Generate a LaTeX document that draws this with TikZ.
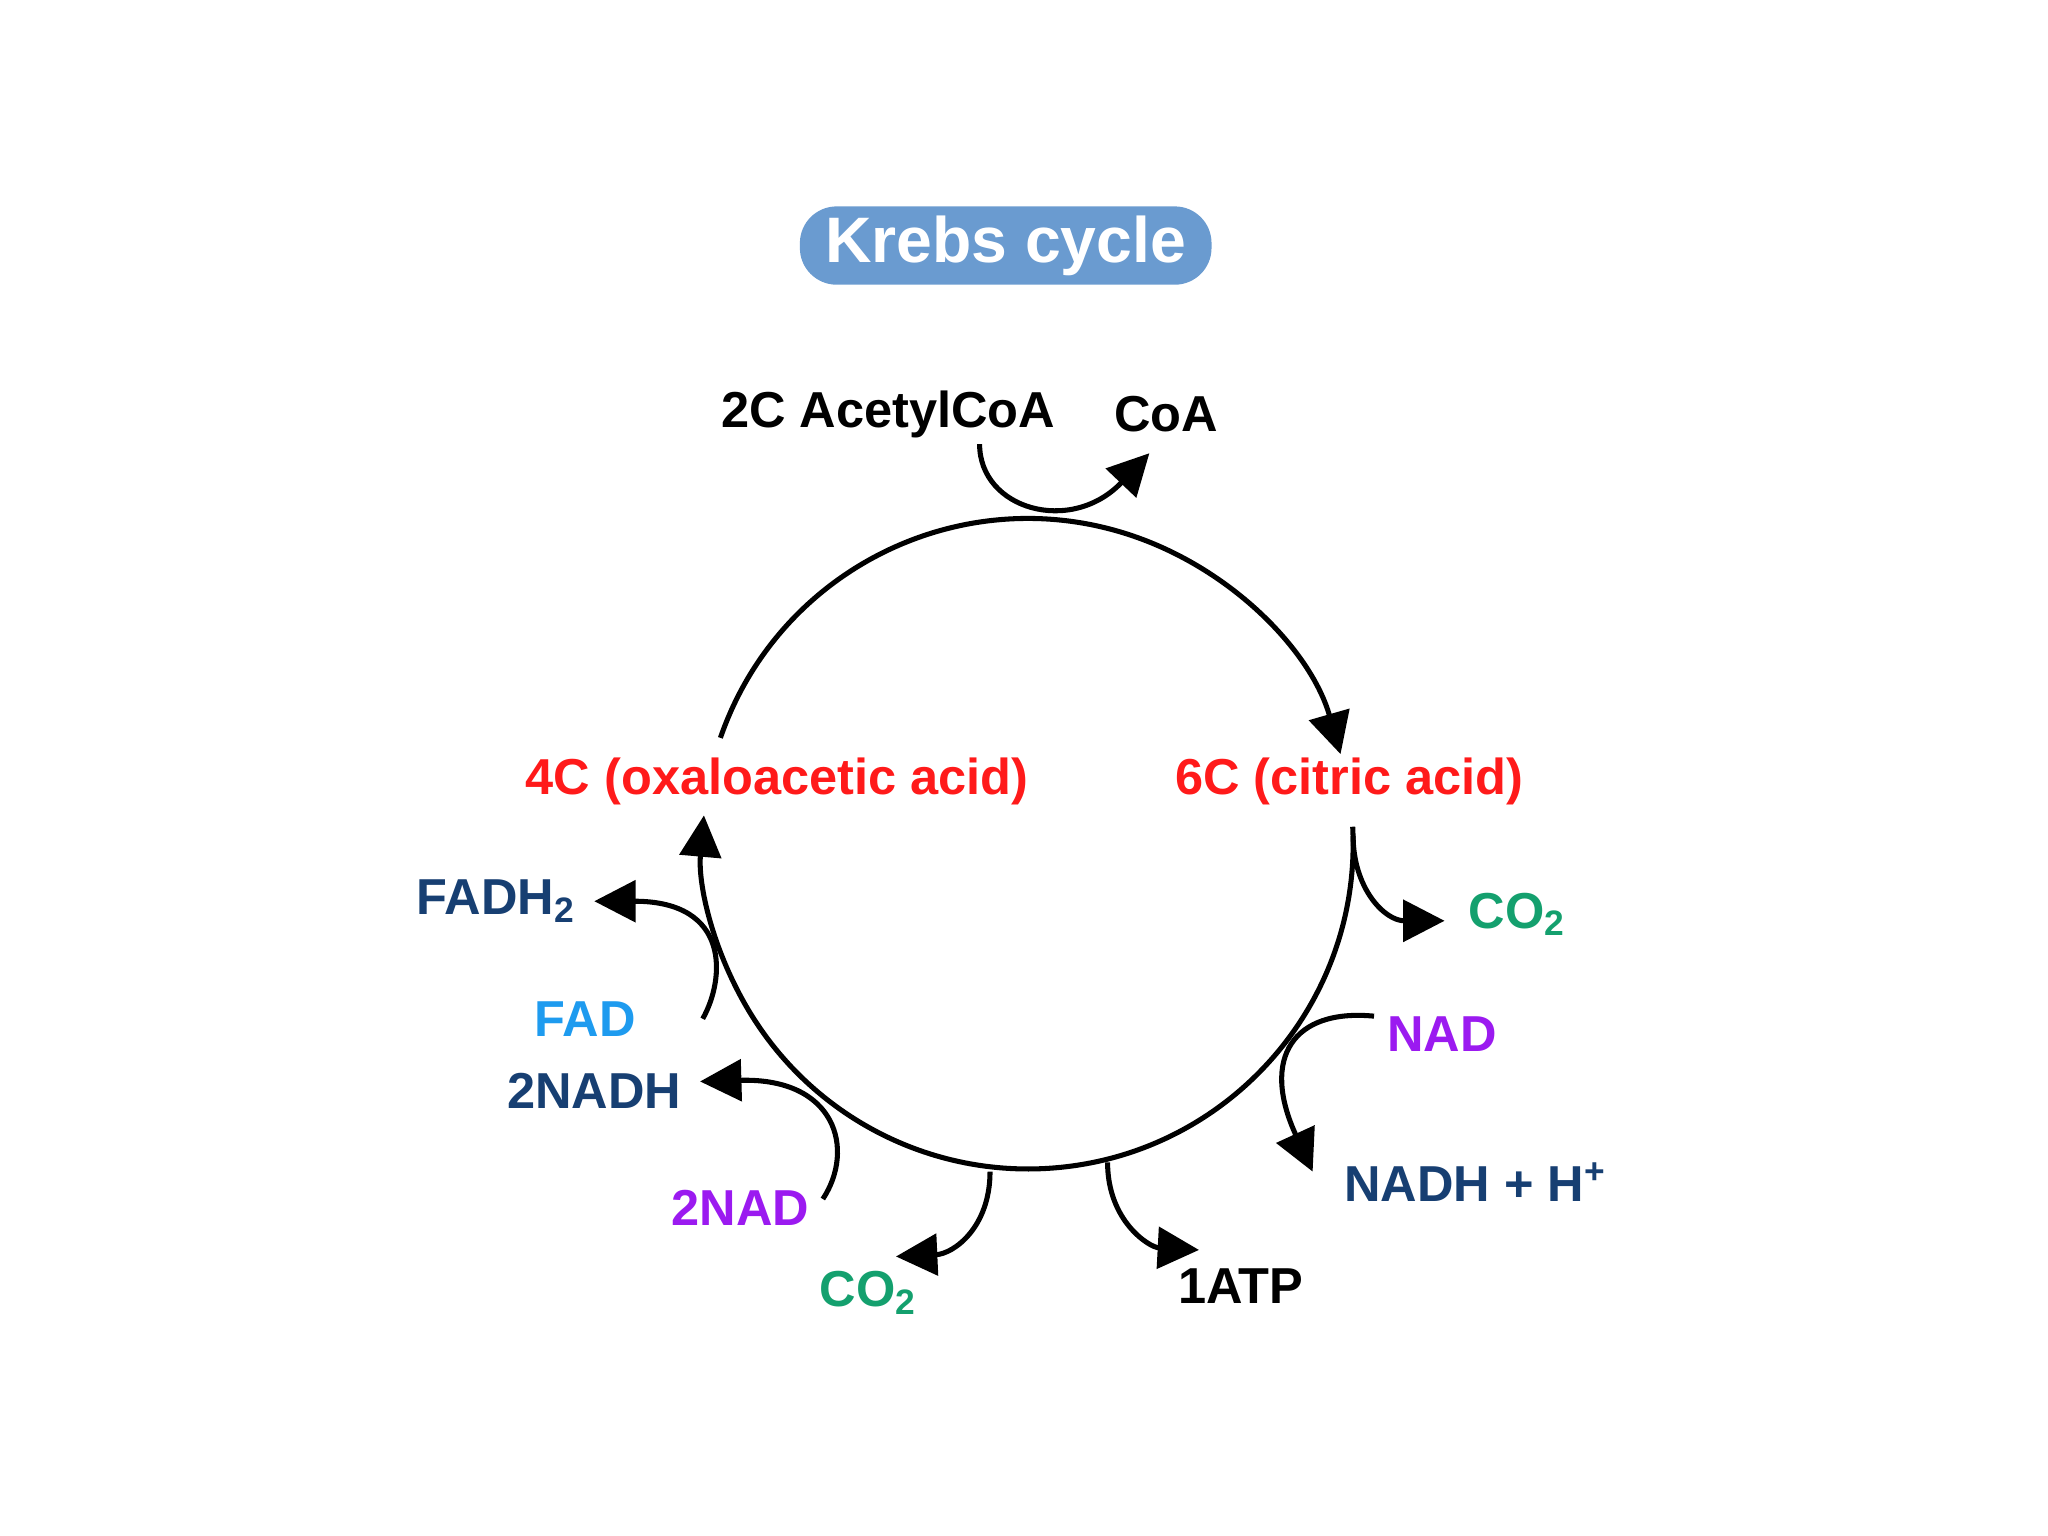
\documentclass[tikz,border=0pt]{standalone}
\usepackage{fontspec}
\setmainfont{Liberation Sans}
\usetikzlibrary{arrows.meta}
\definecolor{pill}{HTML}{6A9BD0}
\definecolor{rd}{HTML}{FF1A1A}
\definecolor{gr}{HTML}{14A06E}
\definecolor{pu}{HTML}{9B1AF0}
\definecolor{nv}{HTML}{173F72}
\definecolor{lb}{HTML}{1E9BEF}
\begin{document}
\begin{tikzpicture}[x=0.01cm,y=-0.01cm,
  lab/.style={font=\bfseries\fontsize{11}{13}\selectfont,inner sep=1pt},
  ar/.style={line width=1.1pt,-{Triangle[length=9pt,width=9pt]}}]
\useasboundingbox (0,0) rectangle (1568,1176);
\node[fill=pill,rounded corners=8pt,minimum width=3.15cm,minimum height=0.58cm,text=white,font=\bfseries\fontsize{14}{16}\selectfont,inner sep=2pt] (t) at (770,188) {Krebs cycle};
\coordinate (c) at (787,646);
\draw[ar] (c) ++(-161:249) arc[start angle=-161,end angle=-16,radius=249];
\draw[ar] (c) ++(-3:249) arc[start angle=-3,end angle=185,radius=249];
\node[lab] (acoa) at (680,317) {2C AcetylCoA};
\node[lab] (coa) at (893,317) {CoA};
\node[lab,text=rd] (oxa) at (595,598) {4C (oxaloacetic acid)};
\node[lab,text=rd] (cit) at (1033,598) {6C (citric acid)};
\node[lab,text=gr] (co2a) at (1162,700) {CO\textsubscript{2}};
\node[lab,text=pu] (nad) at (1104,792) {NAD};
\node[lab,text=nv] (nadh) at (1130,905) {NADH + H\textsuperscript{+}};
\node[lab] (atp) at (950,985) {1ATP};
\node[lab,text=gr] (co2b) at (665,990) {CO\textsubscript{2}};
\node[lab,text=pu] (nad2) at (567,925) {2NAD};
\node[lab,text=nv] (nadh2) at (455,835) {2NADH};
\node[lab,text=lb] (fad) at (448,780) {FAD};
\node[lab,text=nv] (fadh) at (380,690) {FADH\textsubscript{2}};
\coordinate (a1) at (750,340); \coordinate (a2) at (880,347);
\draw[ar] (a1) .. controls (750,390) and (820,410) .. (a2);
\coordinate (b1) at (1036,640); \coordinate (b2) at (1106,705);
\draw[ar] (b1) .. controls (1036,680) and (1060,705) .. (b2);
\coordinate (n1) at (1052,778); \coordinate (n2) at (1005,897);
\draw[ar] (n1) .. controls (990,772) and (965,810) .. (n2);
\coordinate (p1) at (848,890); \coordinate (p2) at (918,957);
\draw[ar] (p1) .. controls (848,935) and (880,955) .. (p2);
\coordinate (q1) at (758,897); \coordinate (q2) at (686,962);
\draw[ar] (q1) .. controls (758,940) and (730,960) .. (q2);
\coordinate (r1) at (630,918); \coordinate (r2) at (536,828);
\draw[ar] (r1) .. controls (655,880) and (640,825) .. (r2);
\coordinate (s1) at (538,780); \coordinate (s2) at (455,690);
\draw[ar] (s1) .. controls (555,750) and (560,690) .. (s2);
\end{tikzpicture}
\end{document}
